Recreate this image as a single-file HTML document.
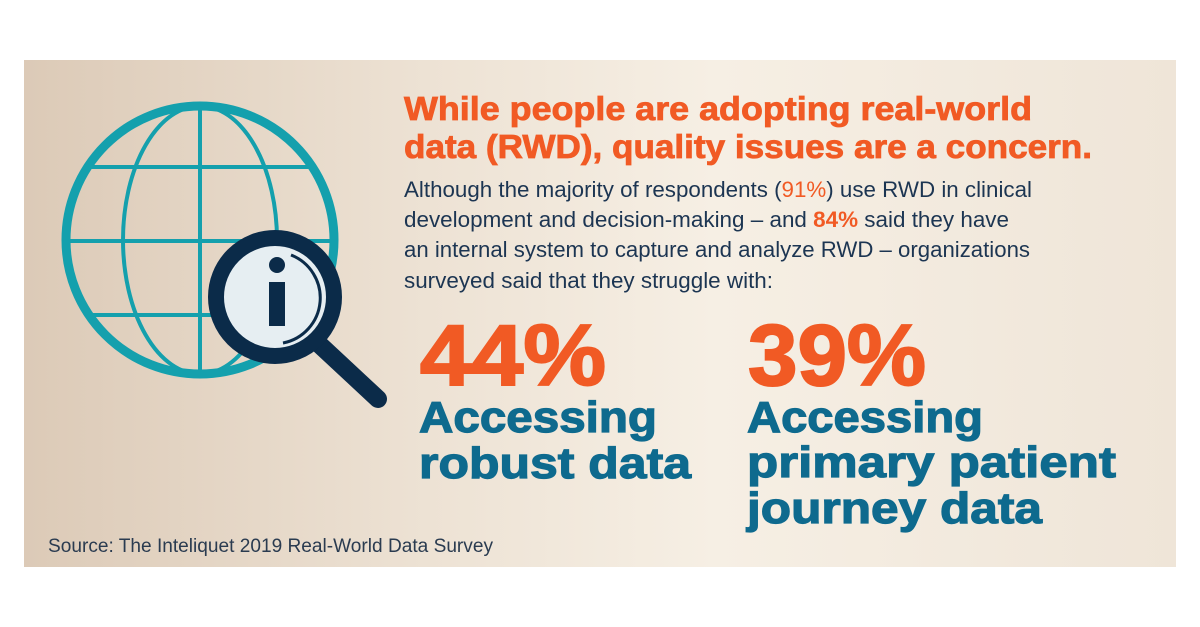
<!DOCTYPE html>
<html><head><meta charset="utf-8"><style>
html,body{margin:0;padding:0;background:#fff;}
svg{display:block;}
</style></head><body>
<svg width="1200" height="627" viewBox="0 0 1200 627" xmlns="http://www.w3.org/2000/svg">
<defs>
<linearGradient id="bg" x1="0" y1="0" x2="1" y2="0">
<stop offset="0" stop-color="#dccab7"/>
<stop offset="0.35" stop-color="#ede2d4"/>
<stop offset="0.6" stop-color="#f6efe4"/>
<stop offset="1" stop-color="#efe5d8"/>
</linearGradient>
<clipPath id="gc"><circle cx="200" cy="240" r="134"/></clipPath>
</defs>
<rect x="0" y="0" width="1200" height="627" fill="#fff"/>
<rect x="24" y="60" width="1152" height="507" fill="url(#bg)"/>

<g fill="none" stroke="#14a0ad">
<g clip-path="url(#gc)" stroke-width="4">
<line x1="50" y1="167" x2="350" y2="167"/>
<line x1="50" y1="241" x2="350" y2="241"/>
<line x1="50" y1="315" x2="350" y2="315"/>
<line x1="200" y1="100" x2="200" y2="380"/>
<ellipse cx="200" cy="240" rx="77" ry="134"/>
</g>
<circle cx="200" cy="240" r="134" stroke-width="9"/>
</g>
<line x1="320" y1="345" x2="378" y2="399" stroke="#0b2b49" stroke-width="18" stroke-linecap="round"/>
<circle cx="275" cy="297" r="59" fill="#e6eef2" stroke="#0b2b49" stroke-width="16"/>
<path d="M 291 255 A 46 46 0 0 1 283 343" fill="none" stroke="#0b2b49" stroke-width="3"/>
<circle cx="277" cy="265" r="8" fill="#0b2b49"/>
<rect x="269" y="282" width="16" height="44" fill="#0b2b49"/>

<g font-family="'Liberation Sans', sans-serif" font-weight="bold" fill="#f15a24" stroke="#f15a24" stroke-width="0.8" font-size="33">
<text x="404" y="120" textLength="628" lengthAdjust="spacingAndGlyphs">While people are adopting real-world</text>
<text x="404" y="158" textLength="688" lengthAdjust="spacingAndGlyphs">data (RWD), quality issues are a concern.</text>
</g>
<g font-family="'Liberation Sans', sans-serif" fill="#1c3552" font-size="22">
<text x="404" y="197" textLength="628" lengthAdjust="spacingAndGlyphs">Although the majority of respondents (<tspan fill="#f15a24">91%</tspan>) use RWD in clinical</text>
<text x="404" y="227" textLength="605" lengthAdjust="spacingAndGlyphs">development and decision-making – and <tspan fill="#f15a24" font-weight="bold">84%</tspan> said they have</text>
<text x="404" y="257" textLength="626" lengthAdjust="spacingAndGlyphs">an internal system to capture and analyze RWD – organizations</text>
<text x="404" y="288" textLength="369" lengthAdjust="spacingAndGlyphs">surveyed said that they struggle with:</text>
</g>
<g font-family="'Liberation Sans', sans-serif" font-weight="bold">
<g fill="#f15a24" stroke="#f15a24" stroke-width="2">
<text x="420" y="385" font-size="86" textLength="186" lengthAdjust="spacingAndGlyphs">44%</text>
<text x="748" y="385" font-size="86" textLength="178" lengthAdjust="spacingAndGlyphs">39%</text>
</g>
<g font-size="44" fill="#0e6a8e" stroke="#0e6a8e" stroke-width="1.2">
<text x="419" y="432" textLength="238" lengthAdjust="spacingAndGlyphs">Accessing</text>
<text x="419" y="478" textLength="272" lengthAdjust="spacingAndGlyphs">robust data</text>
<text x="747" y="432" textLength="236" lengthAdjust="spacingAndGlyphs">Accessing</text>
<text x="747" y="477" textLength="369" lengthAdjust="spacingAndGlyphs">primary patient</text>
<text x="747" y="523" textLength="295" lengthAdjust="spacingAndGlyphs">journey data</text>
</g>
</g>
<text x="48" y="552" font-family="'Liberation Sans', sans-serif" font-size="19" fill="#2a3b50" textLength="445" lengthAdjust="spacingAndGlyphs">Source: The Inteliquet 2019 Real-World Data Survey</text>
</svg>
</body></html>
